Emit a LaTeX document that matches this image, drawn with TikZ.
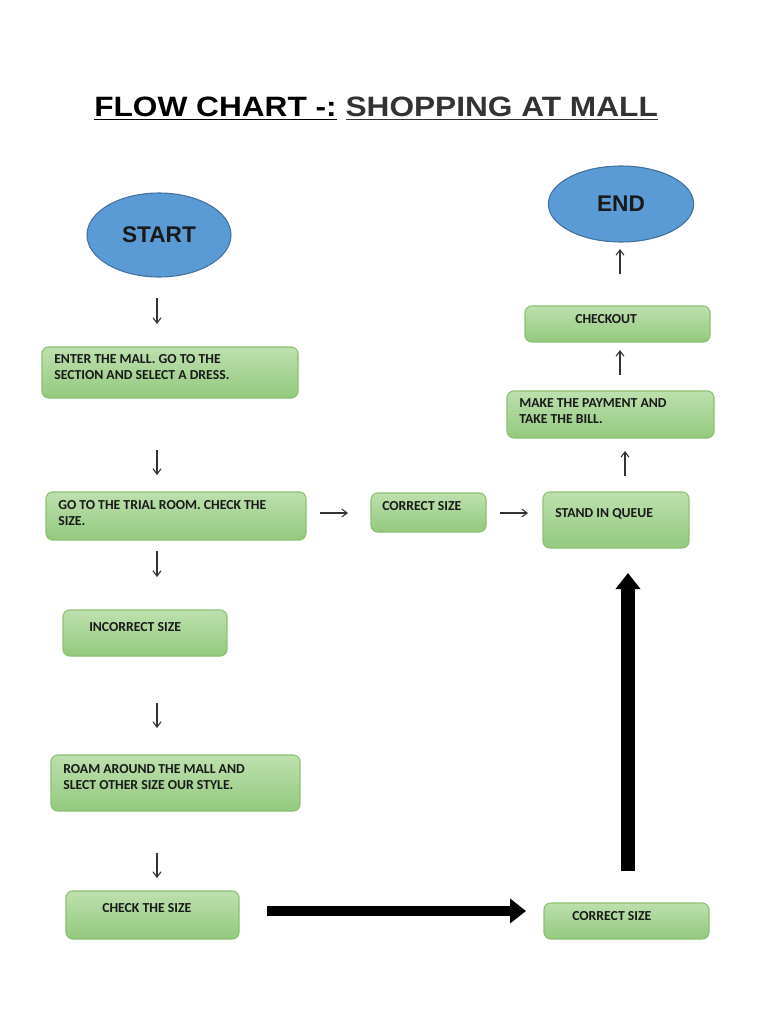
\documentclass[tikz,border=0pt]{standalone}
\usepackage{fontspec}
\setmainfont{Carlito}
\newfontfamily\titlefont{Liberation Sans}
\usetikzlibrary{shapes.geometric,arrows.meta}
\definecolor{gtop}{HTML}{BDE0AE}
\definecolor{gbot}{HTML}{93C97E}
\definecolor{gline}{HTML}{8CC070}
\definecolor{eblue}{HTML}{5B9BD5}
\definecolor{eline}{HTML}{41719C}
\begin{document}
\begin{tikzpicture}[x=0.75pt,y=-0.75pt,
  box/.style={draw=gline,line width=0.8pt,rounded corners=5pt,top color=gtop,bottom color=gbot},
  txt/.style={anchor=north west,align=left,font=\fontsize{10.3}{12}\selectfont\bfseries,inner sep=0pt,text=black!90},
  oval/.style={ellipse,draw=eline,line width=0.8pt,fill=eblue,font=\titlefont\bfseries\fontsize{17}{20}\selectfont,text=black!90},
  thin/.style={-{Straight Barb[length=4pt,width=6pt]},line width=0.8pt,black!80},
  fat/.style={-{Triangle[length=12pt,width=18pt]},line width=8pt}]
\useasboundingbox (0,0) rectangle (768,1024);
\node[anchor=base west,inner sep=0pt,font=\titlefont\bfseries\fontsize{21}{24}\selectfont] (title) at (94,117)
  {\scalebox{1.13}[1]{\underline{FLOW CHART -:} \textcolor{black!80}{\underline{SHOPPING AT MALL}}}};
\node[oval,minimum width=108pt,minimum height=63pt] (start) at (159,235) {START};
\node[oval,minimum width=109pt,minimum height=57pt] (end) at (621,204) {END};
\draw[box] (42,347) rectangle (298,398); \node[txt] (enter) at (54,354) {ENTER THE MALL. GO TO THE\\SECTION AND SELECT A DRESS.};
\draw[box] (46,492) rectangle (306,540); \node[txt] (trial) at (58,500) {GO TO THE TRIAL ROOM. CHECK THE\\SIZE.};
\draw[box] (371,493) rectangle (486,532); \node[txt] (cs1) at (382,501) {CORRECT SIZE};
\draw[box] (543,492) rectangle (689,548); \node[txt] (queue) at (555,508) {STAND IN QUEUE};
\draw[box] (507,391) rectangle (714,438); \node[txt] (pay) at (519,398) {MAKE THE PAYMENT AND\\TAKE THE BILL.};
\draw[box] (525,306) rectangle (710,342); \node[txt] (check) at (575,314) {CHECKOUT};
\draw[box] (63,610) rectangle (227,656); \node[txt] (inc) at (89,622) {INCORRECT SIZE};
\draw[box] (51,755) rectangle (300,811); \node[txt] (roam) at (63,764) {ROAM AROUND THE MALL AND\\SLECT OTHER SIZE OUR STYLE.};
\draw[box] (66,891) rectangle (239,939); \node[txt] (chk) at (102,903) {CHECK THE SIZE};
\draw[box] (544,903) rectangle (709,939); \node[txt] (cs2) at (572,911) {CORRECT SIZE};
\foreach \n/\x/\a/\b in {a/157/298/324,b/157/450/475,c/157/551/577,d/157/703/728,e/157/853/878}{
  \coordinate (\n1) at (\x,\a); \coordinate (\n2) at (\x,\b); \draw[thin] (\n1) -- (\n2);}
\coordinate (f1) at (320,513); \coordinate (f2) at (348,513); \draw[thin] (f1) -- (f2);
\coordinate (g1) at (500,513); \coordinate (g2) at (528,513); \draw[thin] (g1) -- (g2);
\foreach \n/\x/\a/\b in {h/625/476/451,i/620/375/350,j/620/274/249}{
  \coordinate (\n1) at (\x,\a); \coordinate (\n2) at (\x,\b); \draw[thin] (\n1) -- (\n2);}
\coordinate (k1) at (267,911); \coordinate (k2) at (526,911); \draw[fat] (k1) -- (k2);
\coordinate (l1) at (628,871); \coordinate (l2) at (628,573); \draw[fat,line width=10pt] (l1) -- (l2);
\end{tikzpicture}
\end{document}
